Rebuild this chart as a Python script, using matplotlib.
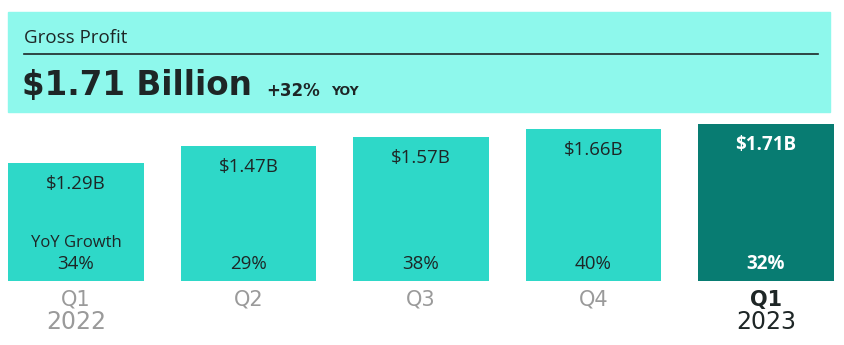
import matplotlib.pyplot as plt
from matplotlib.patches import Rectangle

# Quarterly gross profit ($B) and year-over-year growth
quarters = ["Q1", "Q2", "Q3", "Q4", "Q1"]
years = ["2022", "", "", "", "2023"]
profit = [1.29, 1.47, 1.57, 1.66, 1.71]
growth = [34, 29, 38, 40, 32]

light = "#2ed8c8"
dark = "#087c72"
ink = "#1e2626"
grey = "#9a9a9a"

fig = plt.figure(figsize=(8.45, 3.45), dpi=100)
W, H = 845, 345

# header panel
fig.patches.append(Rectangle((8 / W, 1 - 112 / H), 822 / W, 100 / H,
                             transform=fig.transFigure, color="#8ef8ec", zorder=0))
fig.add_artist(plt.Line2D([24 / W, 818 / W], [1 - 54 / H, 1 - 54 / H],
                          transform=fig.transFigure, color=ink, lw=1.2))
fig.text(24 / W, 1 - 38 / H, "Gross Profit", fontsize=13.5, color=ink,
         family="Open Sans", va="center", ha="left")
fig.text(22 / W, 1 - 85 / H, "$1.71 Billion", fontsize=23.5, color=ink,
         family="DejaVu Sans", weight="bold", va="center", ha="left")
fig.text(266 / W, 1 - 91 / H, "+32%", fontsize=12, color=ink,
         family="DejaVu Sans", weight="bold", va="center", ha="left")
fig.text(331 / W, 1 - 92 / H, "YOY", fontsize=9, color=ink,
         family="DejaVu Sans", weight="bold", va="center", ha="left")

# bar chart area
ax = fig.add_axes([8 / W, 64 / H, 826 / W, 175 / H])
x = list(range(len(profit)))
colors = [light] * 4 + [dark]
ax.bar(x, profit, width=0.788, color=colors)
ax.set_xlim(-0.394, 4.394)
ax.set_ylim(0, 175 / 91.6)
ax.axis("off")

for i, (v, g) in enumerate(zip(profit, growth)):
    last = i == len(profit) - 1
    c = "white" if last else ink
    wt = "bold" if last else "normal"
    ax.annotate(f"${v:.2f}B", (i, v), xytext=(0, -21), textcoords="offset pixels",
                ha="center", va="center", fontsize=13.5, color=c, weight=wt, family="Open Sans")
    ax.annotate(f"{g}%", (i, 0), xytext=(0, 17), textcoords="offset pixels",
                ha="center", va="center", fontsize=13.5, color=c, weight=wt, family="Open Sans")
    ax.annotate(quarters[i], (i, 0), xytext=(0, -19), textcoords="offset pixels",
                ha="center", va="center", fontsize=15, color=ink if last else grey,
                weight="bold" if last else "normal", family="DejaVu Sans",
                annotation_clip=False)
    if years[i]:
        ax.annotate(years[i], (i, 0), xytext=(0, -41), textcoords="offset pixels",
                    ha="center", va="center", fontsize=17, color=ink if last else grey,
                    family="DejaVu Sans", annotation_clip=False)

ax.annotate("YoY Growth", (0, 0), xytext=(0, 38), textcoords="offset pixels",
            ha="center", va="center", fontsize=12, color=ink, family="Open Sans")

fig.savefig("out.png", dpi=100)
